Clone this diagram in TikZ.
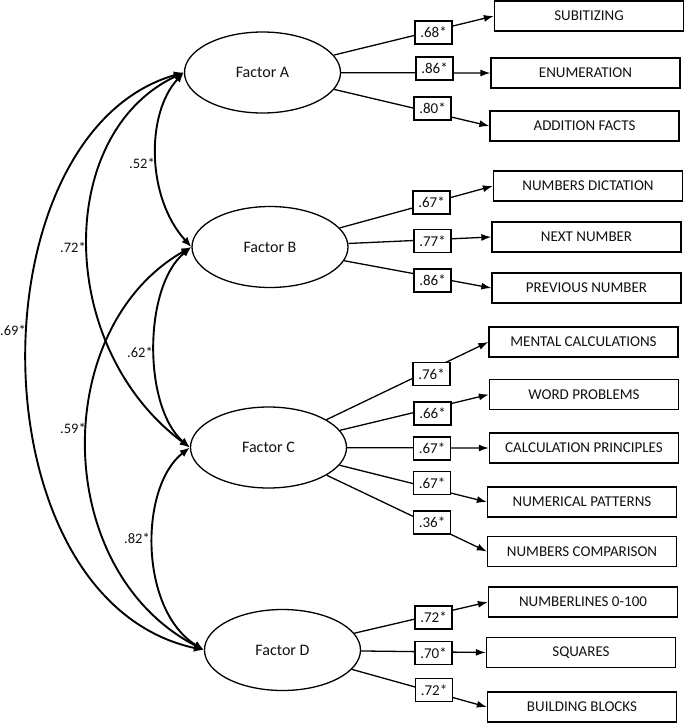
\documentclass[tikz,border=0pt]{standalone}
\usepackage{fontspec}
\setmainfont{Carlito}
\usetikzlibrary{shapes.geometric,arrows.meta}
\pgfdeclarelayer{bg}
\pgfsetlayers{bg,main}
\definecolor{txt}{HTML}{111111}
\begin{document}
\begin{tikzpicture}[x=1pt,y=-1pt,
  factor/.style={ellipse,draw,line width=1.3pt,minimum width=156pt,minimum height=81pt,inner sep=0pt,text=txt,font=\fontsize{16}{18}\selectfont},
  ind/.style={draw,line width=1.3pt,minimum width=189pt,minimum height=30pt,inner sep=0pt,text=txt,font=\fontsize{15}{17}\selectfont},
  load/.style={draw,fill=white,line width=1.3pt,minimum width=37pt,minimum height=23pt,inner sep=0pt,text=txt,font=\fontsize{15}{17}\selectfont},
  corr/.style={inner sep=0pt,text=txt,font=\fontsize{14.5}{16}\selectfont},
  arr/.style={line width=1.3pt,-{Latex[length=10pt,width=7pt]}},
  cov/.style={line width=1.9pt,{Latex[length=10pt,width=8pt]}-{Latex[length=10pt,width=8pt]}},
]
\useasboundingbox (0,0) rectangle (685,724);

% factors
\node[factor] (A) at (262.5,72.5) {Factor A};
\node[factor] (B) at (270,247) {Factor B};
\node[factor] (C) at (268.5,447.5) {Factor C};
\node[factor] (D) at (282.5,650) {Factor D};

% indicators
\node[ind] (sub)  at (589,16)    {SUBITIZING};
\node[ind] (enu)  at (585.5,73)  {ENUMERATION};
\node[ind] (add)  at (584.5,126) {ADDITION FACTS};
\node[ind] (dict) at (588,186)   {NUMBERS DICTATION};
\node[ind] (next) at (586.5,237) {NEXT NUMBER};
\node[ind] (prev) at (586.5,288) {PREVIOUS NUMBER};
\node[ind] (ment) at (583.5,342) {MENTAL CALCULATIONS};
\node[ind] (word) at (584,394.5) {WORD PROBLEMS};
\node[ind] (calc) at (584,448)   {CALCULATION PRINCIPLES};
\node[ind] (nump) at (582,502)   {NUMERICAL PATTERNS};
\node[ind] (comp) at (582,551.5) {NUMBERS COMPARISON};
\node[ind] (nl)   at (583,602)   {NUMBERLINES 0-100};
\node[ind] (sq)   at (581,652.5) {SQUARES};
\node[ind] (bb)   at (582,707)   {BUILDING BLOCKS};

% loadings
\node[load] (la1) at (433.5,32.5)  {.68*};
\node[load] (la2) at (434.5,68.5)  {.86*};
\node[load] (la3) at (432.5,108.5) {.80*};
\node[load] (lb1) at (431.5,202.5) {.67*};
\node[load] (lb2) at (432.5,241)   {.77*};
\node[load] (lb3) at (432.5,280.5) {.86*};
\node[load] (lc1) at (431.5,374)   {.76*};
\node[load] (lc2) at (432.5,413.5) {.66*};
\node[load] (lc3) at (432,448.5)   {.67*};
\node[load] (lc4) at (432,483)     {.67*};
\node[load] (lc5) at (432,522.5)   {.36*};
\node[load] (ld1) at (433.5,617.5) {.72*};
\node[load] (ld2) at (433.5,653)   {.70*};
\node[load] (ld3) at (434,690)     {.72*};

\begin{pgfonlayer}{bg}
\draw[arr] (A) -- (sub.west);
\draw[arr] (A) -- (enu.west);
\draw[arr] (A) -- (add.west);
\draw[arr] (B) -- (dict.west);
\draw[arr] (B) -- (next.west);
\draw[arr] (B) -- (prev.west);
\draw[arr] (C) -- (ment.west);
\draw[arr] (C) -- (word.west);
\draw[arr] (C) -- (calc.west);
\draw[arr] (C) -- (nump.west);
\draw[arr] (C) -- (comp.west);
\draw[arr] (D) -- (nl.west);
\draw[arr] (D) -- (sq.west);
\draw[arr] (D) -- (bb.west);
\end{pgfonlayer}

% correlations
\draw[cov] (A.west) .. controls (-28,133) and (-28,600) .. (D.west);
\draw[cov] (A.west) .. controls (55,133) and (55,347) .. (C.west);
\draw[cov] (A.west) .. controls (146,113) and (146,197) .. (B.west);
\draw[cov] (B.west) .. controls (143,287) and (143,407) .. (C.west);
\draw[cov] (B.west) .. controls (50,327) and (50,570) .. (D.west);
\draw[cov] (C.west) .. controls (139,487) and (139,610) .. (D.west);

\node[corr] (r52) at (142,163) {.52*};
\node[corr] (r72) at (73,247)  {.72*};
\node[corr] (r69) at (13,330)  {.69*};
\node[corr] (r62) at (140,352) {.62*};
\node[corr] (r59) at (73,428)  {.59*};
\node[corr] (r82) at (137,538) {.82*};
\end{tikzpicture}
\end{document}
